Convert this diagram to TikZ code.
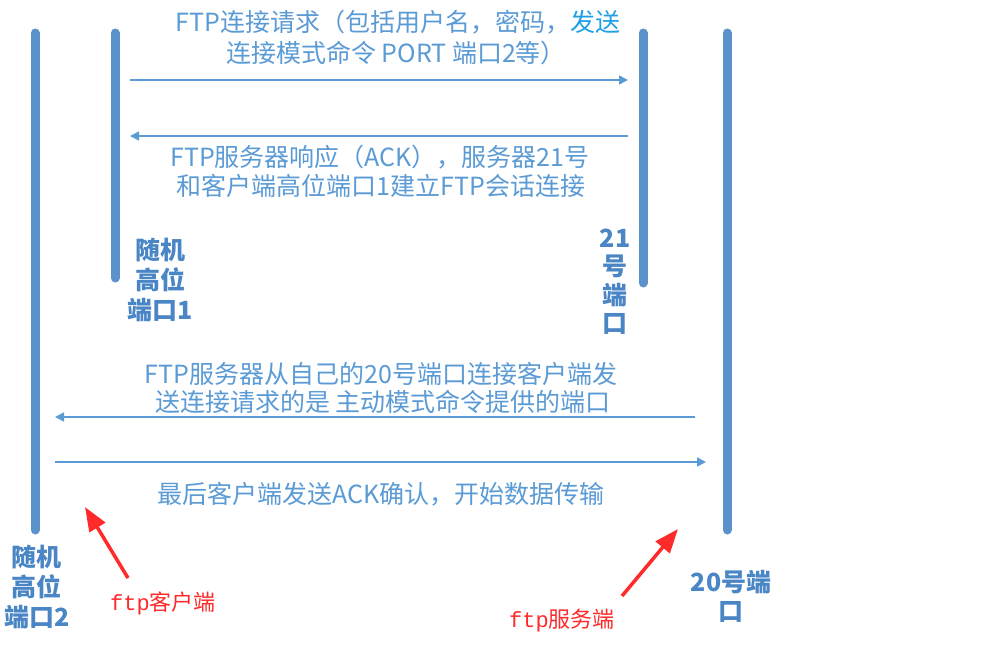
\documentclass[tikz,border=0pt]{standalone}
\usepackage{fontspec}
\newfontfamily\cjk{Noto Sans CJK SC}
\newfontfamily\monof{Liberation Mono}
\usetikzlibrary{arrows.meta}
\definecolor{barblue}{HTML}{5B92CB}
\definecolor{msgblue}{HTML}{5B9BD5}
\definecolor{lblblue}{HTML}{4A86C5}
\definecolor{cyanblue}{HTML}{1EA0E6}
\definecolor{redarrow}{HTML}{FF2A2A}
\tikzset{
  bar/.style={draw=barblue, line width=9pt, line cap=round},
  msgarrow/.style={draw=msgblue, line width=1.6pt, -{Triangle[length=9pt,width=9pt]}},
  msg/.style={text=msgblue, font=\cjk\fontsize{25}{29}\selectfont, inner sep=0pt},
  lbl/.style={text=lblblue, font=\cjk\bfseries\fontsize{25}{29}\selectfont, inner sep=0pt},
  redlbl/.style={text=redarrow, font=\cjk\fontsize{22}{25}\selectfont, inner sep=0pt},
  redarr/.style={draw=redarrow, line width=3.5pt, -{Triangle[length=24pt,width=18pt]}}
}
\begin{document}
\begin{tikzpicture}[x=1pt,y=-1pt]
\useasboundingbox[fill=white] (0,0) rectangle (990,646);
% bars
\coordinate (a1) at (35,33); \coordinate (a2) at (35,530);
\coordinate (b1) at (115,33); \coordinate (b2) at (115,278);
\coordinate (c1) at (643,33); \coordinate (c2) at (643,283);
\coordinate (d1) at (727,33); \coordinate (d2) at (727,530);
\draw[bar] (a1) -- (a2);
\draw[bar] (b1) -- (b2);
\draw[bar] (c1) -- (c2);
\draw[bar] (d1) -- (d2);
% message arrows
\coordinate (m1s) at (130,80); \coordinate (m1e) at (628,80);
\coordinate (m2s) at (628,136); \coordinate (m2e) at (130,136);
\coordinate (m3s) at (695,417); \coordinate (m3e) at (55,417);
\coordinate (m4s) at (55,462); \coordinate (m4e) at (706,462);
\draw[msgarrow] (m1s) -- (m1e);
\draw[msgarrow] (m2s) -- (m2e);
\draw[msgarrow] (m3s) -- (m3e);
\draw[msgarrow] (m4s) -- (m4e);
% message texts
\node[msg] (t1a) at (398,22) {FTP连接请求（包括用户名，密码，\textcolor{cyanblue}{发送}};
\node[msg] (t1b) at (396,53) {连接模式命令 PORT 端口2等）};
\node[msg] (t2a) at (380,157) {FTP服务器响应（ACK），服务器21号};
\node[msg] (t2b) at (381,186) {和客户端高位端口1建立FTP会话连接};
\node[msg] (t3a) at (381,374) {FTP服务器从自己的20号端口连接客户端发};
\node[msg] (t3b) at (383,402) {送连接请求的是 主动模式命令提供的端口};
\node[msg] (t4) at (381,494) {最后客户端发送ACK确认，开始数据传输};
% port labels
\node[lbl] (p1a) at (160,250) {随机};
\node[lbl] (p1b) at (160,280) {高位};
\node[lbl] (p1c) at (160,310) {端口1};
\node[lbl] (q1a) at (615,238) {21};
\node[lbl] (q1b) at (615,266) {号};
\node[lbl] (q1c) at (615,295) {端};
\node[lbl] (q1d) at (615,324) {口};
\node[lbl] (p2a) at (37,557) {随机};
\node[lbl] (p2b) at (37,587) {高位};
\node[lbl] (p2c) at (37,617) {端口2};
\node[lbl] (q2a) at (731,582) {20号端};
\node[lbl] (q2b) at (731,612) {口};
% red annotations
\node[redlbl] (cl) at (163,603) {{\monof ftp}客户端};
\node[redlbl] (sv) at (562,621) {{\monof ftp}服务端};
\coordinate (r1s) at (128,578); \coordinate (r1e) at (85,507);
\coordinate (r2s) at (622,596); \coordinate (r2e) at (678,529);
\draw[redarr] (r1s) -- (r1e);
\draw[redarr] (r2s) -- (r2e);
\end{tikzpicture}
\end{document}
